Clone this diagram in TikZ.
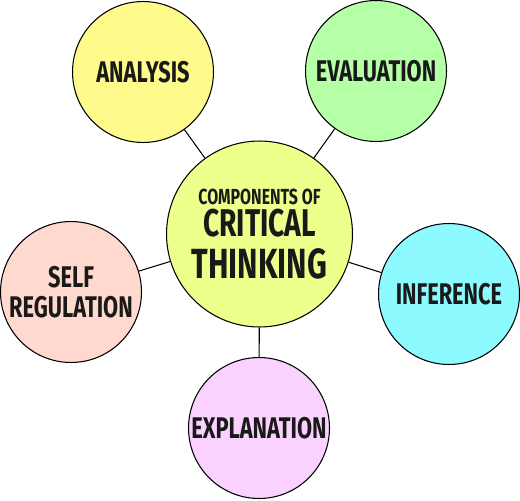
\documentclass[tikz,border=0pt]{standalone}
\usepackage{fontspec}
\newfontfamily\handfont[FakeStretch=0.73]{Fira Sans Bold}
\usetikzlibrary{positioning}

\definecolor{anayellow}{RGB}{255,250,140}
\definecolor{evalgreen}{RGB}{181,255,166}
\definecolor{centerlime}{RGB}{238,255,140}
\definecolor{infcyan}{RGB}{140,250,255}
\definecolor{selfpink}{RGB}{255,216,206}
\definecolor{explpink}{RGB}{250,210,255}

\begin{document}
\begin{tikzpicture}[
    x=0.02cm, y=-0.02cm,
    every node/.style={font=\handfont},
    bubble/.style={circle, draw=black, line width=0.6pt, inner sep=0pt,
        minimum size=2.82cm, align=center, text=black!90,
        font=\handfont\fontsize{17}{20}\selectfont},
    hub/.style={bubble, minimum size=3.72cm},
    link/.style={draw=black, line width=0.6pt}
]
    \useasboundingbox (0,0) rectangle (520,500);

    \node[hub, fill=centerlime] (critical) at (259.5,234)
        {{\fontsize{12.4}{15}\selectfont COMPONENTS OF}\\[-2pt]
         {\fontsize{22}{26}\selectfont CRITICAL}\\[4pt]
         {\fontsize{24}{26}\selectfont THINKING}};

    \node[bubble, fill=anayellow] (analysis) at (143,72) {ANALYSIS};
    \node[bubble, fill=evalgreen] (evaluation) at (376,71) {EVALUATION};
    \node[bubble, fill=selfpink] (selfreg) at (71,292)
        {SELF\\[-3pt]REGULATION};
    \node[bubble, fill=infcyan] (inference) at (449,294) {INFERENCE};
    \node[bubble, fill=explpink] (explanation) at (259,428) {EXPLANATION};

    \path[link] (critical) -- (analysis)
                (critical) -- (evaluation)
                (critical) -- (selfreg)
                (critical) -- (inference)
                (critical) -- (explanation);

\end{tikzpicture}
\end{document}
